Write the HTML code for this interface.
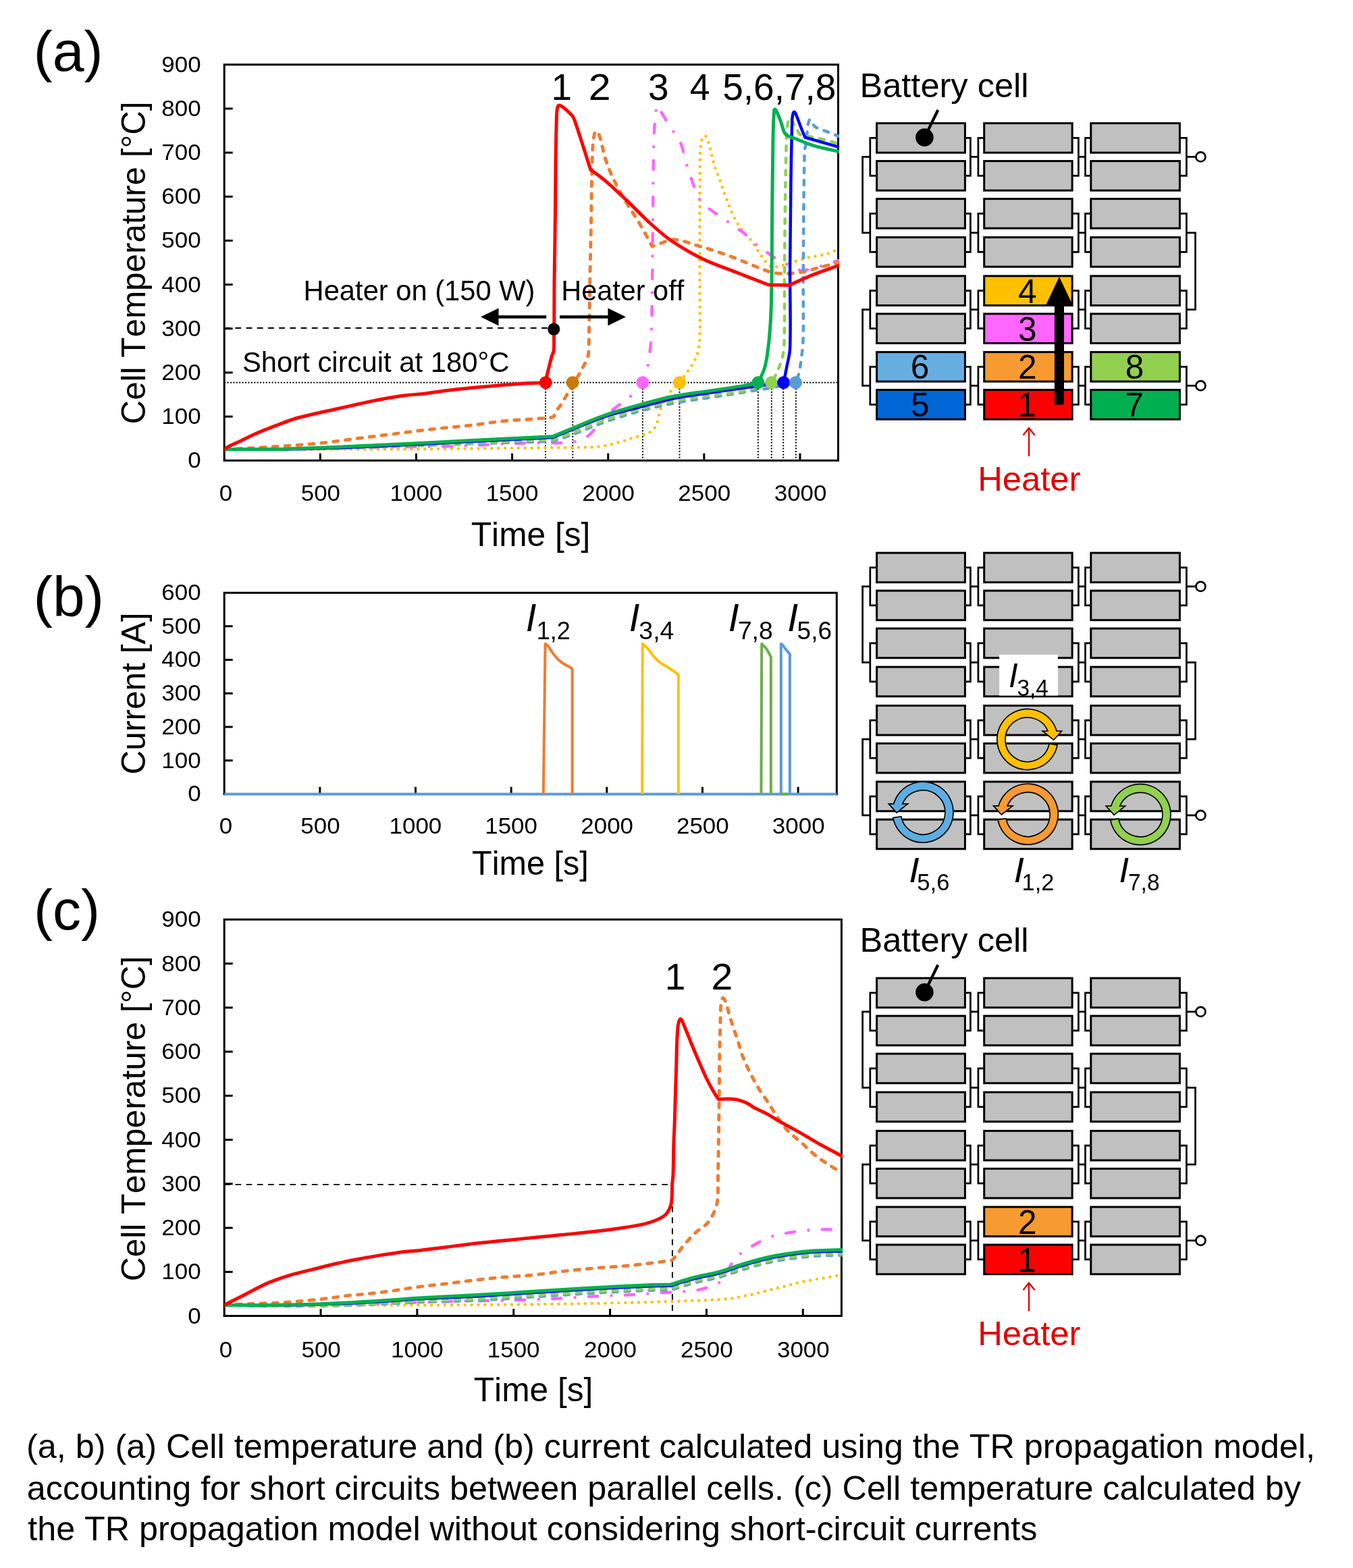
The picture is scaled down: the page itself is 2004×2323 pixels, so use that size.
<!DOCTYPE html>
<html><head><meta charset="utf-8"><title>TR propagation figure</title>
<style>
html,body{margin:0;padding:0;background:#fff;}
svg{display:block;}
text{font-family:'Liberation Sans', Arial, sans-serif;font-kerning:none;}
</style></head><body>
<svg xmlns="http://www.w3.org/2000/svg" width="2004" height="2323" viewBox="0 0 2004 2323">
<rect x="0" y="0" width="2004" height="2323" fill="#fff"/>
<text transform="translate(49.78,105) scale(1.0017,1)" font-size="84" fill="#000">(a)</text>
<text transform="translate(49.49,912.6) scale(1.0190,1)" font-size="84" fill="#000">(b)</text>
<text transform="translate(49.99,1377.3) scale(1.0008,1)" font-size="84" fill="#000">(c)</text>
<path d="M332.2,682.3 V95.8 H1241.5 V682.3" fill="none" stroke="#000" stroke-width="3" stroke-linejoin="miter"/>
<line x1="330.7" y1="682.3" x2="1243" y2="682.3" stroke="#000" stroke-width="3" stroke-linecap="butt"/>
<line x1="332.2" y1="617.13" x2="344.7" y2="617.13" stroke="#000" stroke-width="3" stroke-linecap="butt"/>
<line x1="332.2" y1="551.97" x2="344.7" y2="551.97" stroke="#000" stroke-width="3" stroke-linecap="butt"/>
<line x1="332.2" y1="486.8" x2="344.7" y2="486.8" stroke="#000" stroke-width="3" stroke-linecap="butt"/>
<line x1="332.2" y1="421.63" x2="344.7" y2="421.63" stroke="#000" stroke-width="3" stroke-linecap="butt"/>
<line x1="332.2" y1="356.46" x2="344.7" y2="356.46" stroke="#000" stroke-width="3" stroke-linecap="butt"/>
<line x1="332.2" y1="291.3" x2="344.7" y2="291.3" stroke="#000" stroke-width="3" stroke-linecap="butt"/>
<line x1="332.2" y1="226.13" x2="344.7" y2="226.13" stroke="#000" stroke-width="3" stroke-linecap="butt"/>
<line x1="332.2" y1="160.96" x2="344.7" y2="160.96" stroke="#000" stroke-width="3" stroke-linecap="butt"/>
<line x1="474.32" y1="682.3" x2="474.32" y2="671.7" stroke="#000" stroke-width="3" stroke-linecap="butt"/>
<line x1="616.45" y1="682.3" x2="616.45" y2="671.7" stroke="#000" stroke-width="3" stroke-linecap="butt"/>
<line x1="758.58" y1="682.3" x2="758.58" y2="671.7" stroke="#000" stroke-width="3" stroke-linecap="butt"/>
<line x1="900.7" y1="682.3" x2="900.7" y2="671.7" stroke="#000" stroke-width="3" stroke-linecap="butt"/>
<line x1="1042.83" y1="682.3" x2="1042.83" y2="671.7" stroke="#000" stroke-width="3" stroke-linecap="butt"/>
<line x1="1184.95" y1="682.3" x2="1184.95" y2="671.7" stroke="#000" stroke-width="3" stroke-linecap="butt"/>
<text transform="translate(278.23,693.3) scale(1.0400,1)" font-size="33.6" fill="#000">0</text>
<text transform="translate(239.36,628.13) scale(1.0400,1)" font-size="33.6" fill="#000">100</text>
<text transform="translate(239.36,562.97) scale(1.0400,1)" font-size="33.6" fill="#000">200</text>
<text transform="translate(239.36,497.8) scale(1.0400,1)" font-size="33.6" fill="#000">300</text>
<text transform="translate(239.36,432.63) scale(1.0400,1)" font-size="33.6" fill="#000">400</text>
<text transform="translate(239.36,367.46) scale(1.0400,1)" font-size="33.6" fill="#000">500</text>
<text transform="translate(239.36,302.3) scale(1.0400,1)" font-size="33.6" fill="#000">600</text>
<text transform="translate(239.36,237.13) scale(1.0400,1)" font-size="33.6" fill="#000">700</text>
<text transform="translate(239.36,171.96) scale(1.0400,1)" font-size="33.6" fill="#000">800</text>
<text transform="translate(239.36,106.8) scale(1.0400,1)" font-size="33.6" fill="#000">900</text>
<text transform="translate(324.68,741.8) scale(1.0400,1)" font-size="33.6" fill="#000">0</text>
<text transform="translate(445.76,741.8) scale(1.0400,1)" font-size="33.6" fill="#000">500</text>
<text transform="translate(577.53,741.8) scale(1.0400,1)" font-size="33.6" fill="#000">1000</text>
<text transform="translate(719.66,741.8) scale(1.0400,1)" font-size="33.6" fill="#000">1500</text>
<text transform="translate(862.24,741.8) scale(1.0400,1)" font-size="33.6" fill="#000">2000</text>
<text transform="translate(1004.36,741.8) scale(1.0400,1)" font-size="33.6" fill="#000">2500</text>
<text transform="translate(1146.7,741.8) scale(1.0400,1)" font-size="33.6" fill="#000">3000</text>
<text transform="translate(215.4,628.51) rotate(-90) scale(0.9880,1)" font-size="50" fill="#000">Cell Temperature [°C]</text>
<text transform="translate(697.78,809.1) scale(0.9937,1)" font-size="50" fill="#000">Time [s]</text>
<line x1="332.2" y1="486" x2="811" y2="486" stroke="#000" stroke-width="1.9" stroke-linecap="butt" stroke-dasharray="8.8 7.4"/>
<line x1="332.2" y1="566.8" x2="1241.5" y2="566.8" stroke="#000" stroke-width="2" stroke-linecap="butt" stroke-dasharray="2 2.4"/>
<line x1="808" y1="566.8" x2="808" y2="680.8" stroke="#000" stroke-width="2" stroke-linecap="butt" stroke-dasharray="2 2.4"/>
<line x1="848.3" y1="566.8" x2="848.3" y2="680.8" stroke="#000" stroke-width="2" stroke-linecap="butt" stroke-dasharray="2 2.4"/>
<line x1="951.9" y1="566.8" x2="951.9" y2="680.8" stroke="#000" stroke-width="2" stroke-linecap="butt" stroke-dasharray="2 2.4"/>
<line x1="1006.5" y1="566.8" x2="1006.5" y2="680.8" stroke="#000" stroke-width="2" stroke-linecap="butt" stroke-dasharray="2 2.4"/>
<line x1="1122.9" y1="566.8" x2="1122.9" y2="680.8" stroke="#000" stroke-width="2" stroke-linecap="butt" stroke-dasharray="2 2.4"/>
<line x1="1142.8" y1="566.8" x2="1142.8" y2="680.8" stroke="#000" stroke-width="2" stroke-linecap="butt" stroke-dasharray="2 2.4"/>
<line x1="1160.2" y1="566.8" x2="1160.2" y2="680.8" stroke="#000" stroke-width="2" stroke-linecap="butt" stroke-dasharray="2 2.4"/>
<line x1="1178.9" y1="566.8" x2="1178.9" y2="680.8" stroke="#000" stroke-width="2" stroke-linecap="butt" stroke-dasharray="2 2.4"/>
<clipPath id="clipA"><rect x="332.2" y="95.8" width="910.8" height="586.5"/></clipPath>
<g clip-path="url(#clipA)">
<path d="M332.2,665.8 C424.8,665.67 517.4,665.68 610,665.4 C628.6,665.34 647.2,664.99 665.8,664.8 C693.87,664.52 721.93,664.27 750,664 C776.67,663.74 803.33,663.47 830,663.2 C836.67,663.13 843.34,663.23 850,663 C864.01,662.53 878.17,663.38 892,661.1 C907.52,658.55 922.57,653.56 937.5,648.6 C948.09,645.08 960.75,643.83 968.4,635.7 C975.84,627.79 974.22,614.69 978.7,604.8 C982.83,595.68 988.24,587.12 994.1,579 C997.44,574.37 1002.38,571.13 1006.1,566.8 C1009.96,562.31 1013.38,557.44 1016.8,552.6 C1020.68,547.1 1024.86,541.75 1028,535.8 C1030.63,530.82 1032.71,525.48 1034,520 C1035.53,513.46 1036.27,506.71 1036.4,500 C1037.07,466.67 1036.33,433.33 1036.4,400 C1036.53,343.33 1036.22,286.66 1037,230 C1037.09,223.3 1037.52,216.54 1039,210 C1039.73,206.79 1040.21,201.2 1043.5,201.2 C1046.96,201.2 1047.71,206.79 1049,210 C1050.97,214.91 1051.87,220.18 1053.2,225.3 C1055.14,232.75 1056.52,240.35 1058.8,247.7 C1060.73,253.91 1063.56,259.8 1065.8,265.9 C1068.19,272.4 1070.33,278.99 1072.7,285.5 C1075.43,292.99 1078.02,300.55 1081.1,307.9 C1084.09,315.02 1087.13,322.16 1090.9,328.9 C1093.68,333.87 1097.16,338.44 1100.7,342.9 C1104.17,347.28 1108.5,350.96 1111.9,355.4 C1115.99,360.75 1119.31,366.64 1123.1,372.2 C1126.31,376.91 1129.28,381.8 1132.9,386.2 C1135.84,389.77 1142.7,396 1142.7,396 C1142.7,396 1150.23,395.42 1153.9,394.6 C1158.66,393.54 1163.23,391.8 1167.9,390.4 C1177.23,387.6 1186.45,384.37 1195.9,382 C1205.1,379.7 1214.66,378.93 1223.8,376.4 C1229.92,374.71 1235.6,371.73 1241.5,369.4" fill="none" stroke="#FFC000" stroke-width="4.5" stroke-linecap="round" stroke-linejoin="round" stroke-dasharray="0 9.9"/>
<path d="M332.2,665.8 C371.47,665.7 410.74,666.07 450,665.5 C484.68,665 519.33,663.29 554,662.6 C591.33,661.86 628.68,662.17 666,661.2 C694.02,660.47 721.99,658.59 750,657.5 C764.66,656.93 779.33,656.48 794,656.2 C802.4,656.04 810.8,656.32 819.2,656.2 C827.74,656.08 836.37,656.86 844.8,655.5 C852.4,654.27 859.91,651.92 866.8,648.5 C871.18,646.32 874.65,642.57 878,639 C884.52,632.04 889.48,623.67 896.3,617 C904.21,609.27 913.37,602.92 922,596 C927.93,591.25 934.56,587.31 940,582 C944.6,577.5 948.89,572.49 951.9,566.8 C955.15,560.65 956.83,553.75 958.5,547 C960.21,540.11 961.1,533.04 962,526 C963.2,516.7 964.33,507.37 964.8,498 C965.5,484.02 965.31,470 965.5,456 C965.98,419.8 966.43,383.6 966.8,347.4 C967.1,318.27 967.18,289.13 967.5,260 C967.68,243.33 967.78,226.66 968.3,210 C968.61,199.99 969.23,189.99 970,180 C970.57,172.65 971.24,165.3 972.3,158 C972.41,157.23 972.82,155.63 973.5,156 C974.88,156.75 975.2,158.64 976,160 C977.1,161.88 978.09,163.82 979.2,165.7 C981.86,170.22 984.51,174.75 987.3,179.2 C991.28,185.55 995.5,191.76 999.5,198.1 C1002.54,202.92 1006.29,207.41 1008.4,212.7 C1011.63,220.8 1012.97,229.53 1015.4,237.9 C1017.17,244 1018.99,250.08 1021,256.1 C1023.66,264.08 1026.28,272.09 1029.4,279.9 C1031.88,286.1 1033.65,292.86 1037.8,298.1 C1042.73,304.33 1049.61,308.78 1056,313.5 C1060.38,316.73 1065.6,318.69 1070,321.9 C1075.87,326.18 1080.83,331.62 1086.7,335.9 C1091.1,339.11 1096.46,340.88 1100.7,344.3 C1106.33,348.84 1110.6,354.9 1116.1,359.6 C1120.43,363.3 1125.45,366.11 1130.1,369.4 C1136.65,374.04 1142.8,379.3 1149.7,383.4 C1157.78,388.19 1166.44,391.93 1174.9,396 C1179.04,397.99 1187.5,401.6 1187.5,401.6 C1187.5,401.6 1202.57,398.15 1210,396 C1220.58,392.94 1231,389.33 1241.5,386" fill="none" stroke="#FF66FF" stroke-width="4.5" stroke-linecap="round" stroke-linejoin="round" stroke-dasharray="13 20.5 0 20.5"/>
<path d="M332.2,665.8 C350.13,664.87 368.08,664.14 386,663 C414.01,661.21 442.05,659.6 470,657 C488.73,655.26 507.33,652.33 526,650 C544.67,647.67 563.33,645.33 582,643 C600.67,640.67 619.31,638.1 638,636 C656.64,633.9 675.36,632.5 694,630.4 C712.69,628.3 731.29,625.34 750,623.4 C760.9,622.27 771.87,621.95 782.8,621.2 C790.43,620.68 798.06,620.02 805.7,619.6 C807.86,619.48 810.07,619.97 812.2,619.6 C815.09,619.1 820.6,617 820.6,617 C820.6,617 822.13,612.17 823.4,610 C825.42,606.53 828.22,603.57 830.4,600.2 C833.36,595.63 835.96,590.84 838.8,586.2 C841.1,582.44 843.81,578.93 845.8,575 C846.9,572.82 846.77,570.11 848,568 C850.08,564.43 853.38,561.69 855.6,558.2 C858.73,553.26 861.28,547.97 864,542.8 C865.94,539.11 868.07,535.48 869.6,531.6 C870.66,528.91 871.46,526.08 871.7,523.2 C872.4,514.83 872.22,506.4 872.4,498 C872.69,484 872.87,470 873.1,456 C873.33,442 873.53,428 873.8,414 C874.33,386 875,358 875.5,330 C875.9,307.2 876.02,284.4 876.5,261.6 C876.79,248.06 877.1,234.52 877.8,221 C878.1,215.15 878.54,209.28 879.5,203.5 C880.01,200.41 880.43,197.08 882.2,194.5 C882.76,193.68 884.46,194.67 885,195.5 C886.87,198.38 888.03,201.7 889,205 C891.81,214.56 893.44,224.45 896.3,234 C898.44,241.14 900.93,248.21 904,255 C909.51,267.17 915.4,279.19 922,290.8 C930.01,304.88 939.56,318.05 947.8,332 C954.17,342.79 965.8,365 965.8,365 C965.8,365 974.74,361.88 979.2,360.3 C983.7,358.71 988,356.37 992.7,355.5 C996.73,354.75 1000.98,354.71 1005,355.5 C1012.86,357.04 1020.33,360.1 1028,362.4 C1037.33,365.2 1046.73,367.79 1056,370.8 C1065.4,373.86 1074.74,377.12 1084,380.6 C1093.38,384.12 1102.6,388.07 1111.9,391.8 C1118.9,394.6 1125.81,397.65 1132.9,400.2 C1137.48,401.85 1142.09,403.61 1146.9,404.4 C1152.86,405.38 1165,405.5 1165,405.5 C1165,405.5 1181.02,404.43 1188.9,403 C1196,401.72 1202.83,399.26 1209.8,397.4 C1220.36,394.59 1230.93,391.8 1241.5,389" fill="none" stroke="#ED7D31" stroke-width="5" stroke-linecap="round" stroke-linejoin="round" stroke-dasharray="7 11"/>
<path d="M332.2,665.8 C361.47,665.7 390.74,665.94 420,665.5 C464.61,664.84 509.21,663.8 553.8,662.5 C600.44,661.14 647.06,659.05 693.7,657.5 C722.46,656.55 751.24,655.92 780,655 C793,654.58 819,653.5 819,653.5 C819,653.5 836.3,648.13 844.8,645 C862.08,638.63 878.92,631.08 896.3,625 C913.27,619.07 930.45,613.72 947.8,609 C964.81,604.38 982,600.36 999.3,597 C1016.35,593.69 1033.63,591.67 1050.8,589 C1067.93,586.34 1085.08,583.76 1102.2,581 C1118.15,578.43 1134.12,575.96 1150,573 C1159.56,571.22 1178.5,566.8 1178.5,566.8 C1178.5,566.8 1182.02,558.41 1183,554 C1185.06,544.77 1186.48,535.39 1187.6,526 C1188.71,516.71 1189.52,507.36 1189.7,498 C1190.22,470 1189.5,442 1189.7,414 C1190.16,350.66 1190.21,287.32 1191.7,224 C1191.81,219.24 1193.9,214.72 1194.5,210 C1195.34,203.37 1195.23,196.64 1196,190 C1196.39,186.62 1197,183.25 1198,180 C1198.35,178.85 1199.08,176.22 1200,177 C1203.24,179.73 1203.6,185.08 1207,187.6 C1211.88,191.21 1218.18,192.32 1223.8,194.6 C1229.68,196.99 1235.6,199.27 1241.5,201.6" fill="none" stroke="#5B9BD5" stroke-width="4.5" stroke-linecap="round" stroke-linejoin="round" stroke-dasharray="7 11"/>
<path d="M332.2,665.8 C361.47,665.7 390.74,666 420,665.5 C464.61,664.74 509.21,663.47 553.8,662 C600.44,660.47 647.07,658.36 693.7,656.5 C722.47,655.36 751.23,654.15 780,653 C793,652.48 819,651.5 819,651.5 C819,651.5 836.27,645.7 844.8,642.5 C862.04,636.03 878.92,628.58 896.3,622.5 C913.27,616.57 930.47,611.29 947.8,606.5 C964.83,601.79 981.96,597.37 999.3,594 C1016.33,590.69 1033.63,589 1050.8,586.5 C1067.93,584 1085.27,582.64 1102.2,579 C1115.92,576.05 1142.5,566.8 1142.5,566.8 C1142.5,566.8 1147.9,558.53 1149.8,554 C1153.62,544.88 1157.54,535.67 1159.6,526 C1161.55,516.84 1161.52,507.36 1161.7,498 C1162.32,465.34 1161.79,432.67 1162,400 C1162.22,366.67 1162.54,333.33 1163,300 C1163.38,272.33 1163.89,244.66 1164.5,217 C1164.66,209.66 1164.74,202.32 1165.3,195 C1165.67,190.2 1166.31,185.41 1167.3,180.7 C1167.72,178.71 1167.51,174.58 1169.5,175 C1172.36,175.6 1172.94,179.73 1174.5,182.2 C1177.04,186.23 1179.25,190.47 1181.8,194.5 C1182.92,196.28 1183.58,198.75 1185.5,199.6 C1190.01,201.58 1195.17,201.52 1200,202.5 C1204.84,203.48 1209.69,204.41 1214.5,205.5 C1219.39,206.61 1224.28,207.73 1229.1,209.1 C1233.45,210.33 1237.7,211.9 1242,213.3" fill="none" stroke="#92D050" stroke-width="4.5" stroke-linecap="round" stroke-linejoin="round" stroke-dasharray="7 11"/>
<path d="M332.2,665.8 C361.47,665.7 390.74,666.09 420,665.5 C464.61,664.59 509.22,663.12 553.8,661.3 C600.45,659.39 647.07,656.63 693.7,654.3 C722.47,652.86 751.23,651.45 780,650 C793,649.35 819,648 819,648 C819,648 836.18,640.96 844.8,637.5 C861.95,630.62 878.78,622.87 896.3,617 C913.17,611.35 930.59,607.51 947.8,603 C964.93,598.51 981.95,593.54 999.3,590 C1016.32,586.53 1033.62,584.59 1050.8,582 C1067.92,579.42 1085.05,576.87 1102.2,574.5 C1121.68,571.81 1160.7,566.8 1160.7,566.8 C1160.7,566.8 1163.65,552.28 1165,545 C1166.78,535.41 1169.76,525.94 1170.1,516.2 C1171.46,477.49 1169.89,438.73 1170.1,400 C1170.35,354.36 1170.9,308.73 1171.5,263.1 C1171.8,240.73 1172.29,218.37 1172.8,196 C1172.96,189 1172.97,181.98 1173.5,175 C1173.71,172.29 1174.02,169.53 1175,167 C1175.27,166.31 1176.47,165.47 1177,166 C1178.58,167.58 1179.15,169.93 1180,172 C1182.16,177.27 1183.93,182.69 1186,188 C1188.03,193.2 1192.3,203.5 1192.3,203.5 C1192.3,203.5 1225.1,212.97 1241.5,217.7" fill="none" stroke="#0000FF" stroke-width="4.5" stroke-linecap="round" stroke-linejoin="round"/>
<path d="M332.2,665.8 C359.47,665.67 386.74,666.14 414,665.4 C460.62,664.14 507.21,661.9 553.8,659.8 C600.44,657.7 647.07,655.13 693.7,652.8 C722.47,651.36 751.24,649.97 780,648.5 C793.07,647.83 819.2,646.4 819.2,646.4 C819.2,646.4 836.23,639.18 844.8,635.7 C861.93,628.75 878.85,621.2 896.3,615.1 C913.21,609.19 930.52,604.45 947.8,599.7 C964.86,595.01 981.95,590.27 999.3,586.8 C1016.32,583.4 1033.63,581.67 1050.8,579.1 C1067.93,576.54 1085.12,574.31 1102.2,571.4 C1109.17,570.21 1122.9,566.8 1122.9,566.8 C1122.9,566.8 1130.99,551.37 1133.1,543 C1136.49,529.57 1137.92,515.69 1139.3,501.9 C1141.02,484.79 1142.02,467.59 1142.4,450.4 C1143.52,400.28 1143.29,350.13 1143.8,300 C1144.09,272 1144.39,244 1144.8,216 C1144.95,205.67 1145.15,195.33 1145.5,185 C1145.72,178.66 1145.92,172.32 1146.5,166 C1146.63,164.62 1146.23,162.17 1147.6,162 C1149.1,161.81 1149.83,164.14 1150.5,165.5 C1152.79,170.19 1154.58,175.11 1156.4,180 C1158.48,185.61 1159.49,191.66 1162.2,197 C1163.23,199.02 1165.3,200.44 1167.3,201.5 C1170.72,203.32 1174.59,204.11 1178.2,205.5 C1183.06,207.37 1187.83,209.47 1192.7,211.3 C1197.53,213.11 1202.36,214.92 1207.3,216.4 C1212.07,217.83 1216.95,218.88 1221.8,220 C1228.52,221.55 1235.27,222.93 1242,224.4" fill="none" stroke="#00B050" stroke-width="5" stroke-linecap="round" stroke-linejoin="round"/>
<path d="M332.2,665.5 C334.47,664.1 336.62,662.5 339,661.3 C344.87,658.33 350.96,655.82 356.9,653 C362.89,650.15 368.77,647.06 374.8,644.3 C380.71,641.59 386.68,639.04 392.7,636.6 C398.42,634.28 404.21,632.15 410,630 C418.65,626.78 427.18,623.2 436,620.5 C445.2,617.69 454.63,615.69 464,613.5 C475.3,610.86 486.67,608.52 498,606 C509.14,603.52 520.25,600.91 531.4,598.5 C542.58,596.08 553.75,593.59 565,591.5 C576.16,589.42 587.35,587.47 598.6,586 C609.03,584.64 619.56,584.24 630,583 C641.96,581.58 653.83,579.37 665.8,578 C684.4,575.87 703.05,574.17 721.7,572.5 C740.35,570.83 759.01,569.24 777.7,568 C785.12,567.51 792.57,567.59 800,567.3 C802.67,567.19 808,566.8 808,566.8 C808,566.8 809.54,558.64 810.5,554.6 C812.64,545.57 814.84,536.55 817.3,527.6 C818.11,524.67 820.06,522.03 820.3,519 C821.11,508.6 820.27,498.13 820.4,487.7 C820.44,484.46 820.77,481.24 820.8,478 C820.97,458.67 820.8,439.33 821,420 C821.34,386.67 822.02,353.33 822.4,320 C822.72,291.67 822.74,263.33 823.1,235 C823.34,216.66 823.67,198.33 824.2,180 C824.37,173.99 824.37,167.95 825.2,162 C825.49,159.94 825.77,157.35 827.5,156.2 C828.8,155.34 830.68,156.67 832,157.5 C834.91,159.32 837.44,161.71 840,164 C842.58,166.31 845.26,168.58 847.4,171.3 C848.97,173.29 850.18,175.6 851,178 C859.3,202.37 874.7,251.5 874.7,251.5 C874.7,251.5 889.44,261.8 896.3,267.6 C906.96,276.62 917.06,286.29 927.2,295.9 C939.36,307.43 950.78,319.75 963.2,331 C973.1,339.97 983.05,349.01 994.1,356.5 C1008.9,366.53 1024.42,375.59 1040.5,383.4 C1057.1,391.46 1074.73,397.22 1091.9,404 C1107.33,410.09 1138.3,422 1138.3,422 C1138.3,422 1169.2,422.5 1169.2,422.5 C1169.2,422.5 1193.02,411.48 1205.2,406.6 C1217.14,401.81 1229.4,397.87 1241.5,393.5" fill="none" stroke="#FF0000" stroke-width="5" stroke-linecap="round" stroke-linejoin="round"/>
</g>
<circle cx="808.2" cy="566.8" r="9.5" fill="#FF0000"/>
<circle cx="848" cy="566.8" r="9.5" fill="#C87A0A"/>
<circle cx="951.9" cy="566.8" r="9.5" fill="#FF66FF"/>
<circle cx="1006.5" cy="566.8" r="9.5" fill="#FFC000"/>
<circle cx="1122.9" cy="566.8" r="9.5" fill="#00B050"/>
<circle cx="1142.5" cy="566.8" r="9.5" fill="#92D050"/>
<circle cx="1160.7" cy="566.8" r="9.5" fill="#0000FF"/>
<circle cx="1178.5" cy="566.8" r="9.5" fill="#5B9BD5"/>
<circle cx="820.3" cy="487.7" r="9.1" fill="#000"/>
<path d="M809.2,469.5 H736 M829,469.5 H902" stroke="#000" stroke-width="4.7" fill="none"/>
<path d="M712,469.5 L738.5,456.5 L738.5,482.5 Z M927,469.5 L900.4,456.5 L900.4,482.5 Z" fill="#000"/>
<text transform="translate(449.58,445) scale(1.0000,1)" font-size="41.7" fill="#000">Heater on (150 W)</text>
<text transform="translate(831.2,444.8) scale(0.9942,1)" font-size="41.7" fill="#000">Heater off</text>
<text transform="translate(358.9,550.7) scale(1.0031,1)" font-size="41.7" fill="#000">Short circuit at 180°C</text>
<text transform="translate(816.45,147.9) scale(1.0000,1)" font-size="55" fill="#000">1</text>
<text transform="translate(871.73,147.9) scale(1.0736,1)" font-size="55" fill="#000">2</text>
<text transform="translate(959.91,147.9) scale(0.9971,1)" font-size="55" fill="#000">3</text>
<text transform="translate(1021.77,147.9) scale(0.9742,1)" font-size="55" fill="#000">4</text>
<text transform="translate(1070.2,147.9) scale(1.0000,1)" font-size="55" fill="#000">5,6,7,8</text>
<path d="M1297.1,204.4 H1288.8 V260.4 H1297.1 M1430.9,204.4 H1437.4 V260.4 H1430.9 M1297.1,316.4 H1288.8 V373.4 H1297.1 M1430.9,316.4 H1437.4 V373.4 H1430.9 M1297.1,430.7 H1288.8 V486.7 H1297.1 M1430.9,430.7 H1437.4 V486.7 H1430.9 M1297.1,543.4 H1288.8 V599.4 H1297.1 M1430.9,543.4 H1437.4 V599.4 H1430.9 M1456.2,204.4 H1448.9 V260.4 H1456.2 M1589.6,204.4 H1597.4 V260.4 H1589.6 M1456.2,316.4 H1448.9 V373.4 H1456.2 M1589.6,316.4 H1597.4 V373.4 H1589.6 M1456.2,430.7 H1448.9 V486.7 H1456.2 M1589.6,430.7 H1597.4 V486.7 H1589.6 M1456.2,543.4 H1448.9 V599.4 H1456.2 M1589.6,543.4 H1597.4 V599.4 H1589.6 M1614.3,204.4 H1607.5 V260.4 H1614.3 M1748.9,204.4 H1757.4 V260.4 H1748.9 M1614.3,316.4 H1607.5 V373.4 H1614.3 M1748.9,316.4 H1757.4 V373.4 H1748.9 M1614.3,430.7 H1607.5 V486.7 H1614.3 M1748.9,430.7 H1757.4 V486.7 H1748.9 M1614.3,543.4 H1607.5 V599.4 H1614.3 M1748.9,543.4 H1757.4 V599.4 H1748.9 M1437.4,232.4 H1448.9 M1597.4,232.4 H1607.5 M1437.4,344.9 H1448.9 M1597.4,344.9 H1607.5 M1437.4,458.7 H1448.9 M1597.4,458.7 H1607.5 M1437.4,571.4 H1448.9 M1597.4,571.4 H1607.5 M1288.8,232.4 H1277.6 V344.9 H1288.8 M1288.8,458.7 H1277.6 V571.4 H1288.8 M1757.4,344.9 H1770.5 V458.7 H1757.4 M1757.4,232.4 H1771.4 M1757.4,571.4 H1771.4 " fill="none" stroke="#000" stroke-width="2.7" stroke-linejoin="miter" stroke-linecap="square"/>
<circle cx="1778.4" cy="232.4" r="7" fill="#fff" stroke="#000" stroke-width="2.7"/>
<circle cx="1778.4" cy="571.4" r="7" fill="#fff" stroke="#000" stroke-width="2.7"/>
<rect x="1298.6" y="182.6" width="130.8" height="43.6" fill="#C0C0C0" stroke="#000" stroke-width="3"/>
<rect x="1298.6" y="238.6" width="130.8" height="43.6" fill="#C0C0C0" stroke="#000" stroke-width="3"/>
<rect x="1298.6" y="294.6" width="130.8" height="43.6" fill="#C0C0C0" stroke="#000" stroke-width="3"/>
<rect x="1298.6" y="351.6" width="130.8" height="43.6" fill="#C0C0C0" stroke="#000" stroke-width="3"/>
<rect x="1298.6" y="408.9" width="130.8" height="43.6" fill="#C0C0C0" stroke="#000" stroke-width="3"/>
<rect x="1298.6" y="464.9" width="130.8" height="43.6" fill="#C0C0C0" stroke="#000" stroke-width="3"/>
<rect x="1298.6" y="521.6" width="130.8" height="43.6" fill="#66AEE2" stroke="#000" stroke-width="3"/>
<rect x="1298.6" y="577.6" width="130.8" height="43.6" fill="#0066D6" stroke="#000" stroke-width="3"/>
<rect x="1457.7" y="182.6" width="130.4" height="43.6" fill="#C0C0C0" stroke="#000" stroke-width="3"/>
<rect x="1457.7" y="238.6" width="130.4" height="43.6" fill="#C0C0C0" stroke="#000" stroke-width="3"/>
<rect x="1457.7" y="294.6" width="130.4" height="43.6" fill="#C0C0C0" stroke="#000" stroke-width="3"/>
<rect x="1457.7" y="351.6" width="130.4" height="43.6" fill="#C0C0C0" stroke="#000" stroke-width="3"/>
<rect x="1457.7" y="408.9" width="130.4" height="43.6" fill="#FFC000" stroke="#000" stroke-width="3"/>
<rect x="1457.7" y="464.9" width="130.4" height="43.6" fill="#FF66FF" stroke="#000" stroke-width="3"/>
<rect x="1457.7" y="521.6" width="130.4" height="43.6" fill="#F79A32" stroke="#000" stroke-width="3"/>
<rect x="1457.7" y="577.6" width="130.4" height="43.6" fill="#FF0000" stroke="#000" stroke-width="3"/>
<rect x="1615.8" y="182.6" width="131.6" height="43.6" fill="#C0C0C0" stroke="#000" stroke-width="3"/>
<rect x="1615.8" y="238.6" width="131.6" height="43.6" fill="#C0C0C0" stroke="#000" stroke-width="3"/>
<rect x="1615.8" y="294.6" width="131.6" height="43.6" fill="#C0C0C0" stroke="#000" stroke-width="3"/>
<rect x="1615.8" y="351.6" width="131.6" height="43.6" fill="#C0C0C0" stroke="#000" stroke-width="3"/>
<rect x="1615.8" y="408.9" width="131.6" height="43.6" fill="#C0C0C0" stroke="#000" stroke-width="3"/>
<rect x="1615.8" y="464.9" width="131.6" height="43.6" fill="#C0C0C0" stroke="#000" stroke-width="3"/>
<rect x="1615.8" y="521.6" width="131.6" height="43.6" fill="#92D050" stroke="#000" stroke-width="3"/>
<rect x="1615.8" y="577.6" width="131.6" height="43.6" fill="#00B050" stroke="#000" stroke-width="3"/>
<text transform="translate(1507.26,617.3) scale(1.0000,1)" font-size="49.5" fill="#000">1</text>
<text transform="translate(1507.94,561.3) scale(1.0000,1)" font-size="49.5" fill="#000">2</text>
<text transform="translate(1508.08,504.6) scale(1.0000,1)" font-size="49.5" fill="#000">3</text>
<text transform="translate(1508.09,448.6) scale(1.0000,1)" font-size="49.5" fill="#000">4</text>
<text transform="translate(1349.08,617.3) scale(1.0000,1)" font-size="49.5" fill="#000">5</text>
<text transform="translate(1348.87,561.3) scale(1.0000,1)" font-size="49.5" fill="#000">6</text>
<text transform="translate(1666.61,617.3) scale(1.0000,1)" font-size="49.5" fill="#000">7</text>
<text transform="translate(1666.64,561.3) scale(1.0000,1)" font-size="49.5" fill="#000">8</text>
<text transform="translate(1273.45,143.7) scale(0.9994,1)" font-size="50.6" fill="#000">Battery cell</text>
<line x1="1389.3" y1="163" x2="1369.4" y2="203.6" stroke="#000" stroke-width="4.2" stroke-linecap="butt"/>
<circle cx="1369.4" cy="203.6" r="13.3" fill="#000"/>
<path d="M1524,676 V635 M1515.4,644.8 L1524,634.2 L1532.6,644.8" fill="none" stroke="#E00000" stroke-width="2.3"/>
<text transform="translate(1448.13,726.7) scale(0.9996,1)" font-size="50.8" fill="#E00000">Heater</text>
<path d="M1561.9,599.5 V452.4 H1548.8 L1568.9,410.1 L1589,452.4 H1576 V599.5 Z" fill="#000"/>
<path d="M332.2,1176.4 V878.2 H1239.3 V1176.4" fill="none" stroke="#000" stroke-width="3" stroke-linejoin="miter"/>
<line x1="330.7" y1="1176.4" x2="1240.8" y2="1176.4" stroke="#000" stroke-width="3" stroke-linecap="butt"/>
<line x1="332.2" y1="1126.67" x2="344.7" y2="1126.67" stroke="#000" stroke-width="3" stroke-linecap="butt"/>
<line x1="332.2" y1="1076.93" x2="344.7" y2="1076.93" stroke="#000" stroke-width="3" stroke-linecap="butt"/>
<line x1="332.2" y1="1027.2" x2="344.7" y2="1027.2" stroke="#000" stroke-width="3" stroke-linecap="butt"/>
<line x1="332.2" y1="977.47" x2="344.7" y2="977.47" stroke="#000" stroke-width="3" stroke-linecap="butt"/>
<line x1="332.2" y1="927.74" x2="344.7" y2="927.74" stroke="#000" stroke-width="3" stroke-linecap="butt"/>
<line x1="473.85" y1="1176.4" x2="473.85" y2="1165.8" stroke="#000" stroke-width="3" stroke-linecap="butt"/>
<line x1="615.5" y1="1176.4" x2="615.5" y2="1165.8" stroke="#000" stroke-width="3" stroke-linecap="butt"/>
<line x1="757.15" y1="1176.4" x2="757.15" y2="1165.8" stroke="#000" stroke-width="3" stroke-linecap="butt"/>
<line x1="898.8" y1="1176.4" x2="898.8" y2="1165.8" stroke="#000" stroke-width="3" stroke-linecap="butt"/>
<line x1="1040.45" y1="1176.4" x2="1040.45" y2="1165.8" stroke="#000" stroke-width="3" stroke-linecap="butt"/>
<line x1="1182.1" y1="1176.4" x2="1182.1" y2="1165.8" stroke="#000" stroke-width="3" stroke-linecap="butt"/>
<text transform="translate(278.23,1187.4) scale(1.0400,1)" font-size="33.6" fill="#000">0</text>
<text transform="translate(239.36,1137.67) scale(1.0400,1)" font-size="33.6" fill="#000">100</text>
<text transform="translate(239.36,1087.93) scale(1.0400,1)" font-size="33.6" fill="#000">200</text>
<text transform="translate(239.36,1038.2) scale(1.0400,1)" font-size="33.6" fill="#000">300</text>
<text transform="translate(239.36,988.47) scale(1.0400,1)" font-size="33.6" fill="#000">400</text>
<text transform="translate(239.36,938.74) scale(1.0400,1)" font-size="33.6" fill="#000">500</text>
<text transform="translate(239.36,889) scale(1.0400,1)" font-size="33.6" fill="#000">600</text>
<text transform="translate(324.68,1234.9) scale(1.0400,1)" font-size="33.6" fill="#000">0</text>
<text transform="translate(445.28,1234.9) scale(1.0400,1)" font-size="33.6" fill="#000">500</text>
<text transform="translate(576.58,1234.9) scale(1.0400,1)" font-size="33.6" fill="#000">1000</text>
<text transform="translate(718.23,1234.9) scale(1.0400,1)" font-size="33.6" fill="#000">1500</text>
<text transform="translate(860.34,1234.9) scale(1.0400,1)" font-size="33.6" fill="#000">2000</text>
<text transform="translate(1001.99,1234.9) scale(1.0400,1)" font-size="33.6" fill="#000">2500</text>
<text transform="translate(1143.85,1234.9) scale(1.0400,1)" font-size="33.6" fill="#000">3000</text>
<text transform="translate(215.4,1147.62) rotate(-90) scale(0.9939,1)" font-size="50" fill="#000">Current [A]</text>
<text transform="translate(699.11,1296.1) scale(0.9717,1)" font-size="50" fill="#000">Time [s]</text>
<polyline points="332.2,1176.4 1239.3,1176.4" fill="none" stroke="#5B9BD5" stroke-width="4" stroke-linecap="butt" stroke-linejoin="round"/>
<path d="M804.8,1176.4 C804.8,1176.4 807.6,953.7 807.6,953.7 C807.6,953.7 810.74,956.03 812,957.5 C813.56,959.33 814.63,961.52 816,963.5 C817.63,965.86 819.21,968.26 821,970.5 C822.95,972.93 824.92,975.38 827.2,977.5 C829.6,979.73 832.25,981.72 835,983.5 C837.83,985.33 841.05,986.49 843.9,988.3 C845.28,989.17 847.6,991.5 847.6,991.5 C847.6,991.5 847.6,1176.4 847.6,1176.4" fill="none" stroke="#ED7D31" stroke-width="4" stroke-linecap="butt" stroke-linejoin="round"/>
<path d="M951.1,1176.4 C951.1,1176.4 951.7,953.7 951.7,953.7 C951.7,953.7 954.65,956.15 956,957.5 C957.92,959.42 959.79,961.4 961.5,963.5 C963.46,965.9 965.03,968.6 967,971 C968.87,973.28 970.83,975.5 973,977.5 C975.18,979.51 977.55,981.32 980,983 C983.89,985.66 988.07,987.9 992,990.5 C995.87,993.06 999.74,995.64 1003.4,998.5 C1004.04,999 1004.8,1000.5 1004.8,1000.5 C1004.8,1000.5 1004.8,1176.4 1004.8,1176.4" fill="none" stroke="#FFC000" stroke-width="4" stroke-linecap="butt" stroke-linejoin="round"/>
<path d="M1127.4,1176.4 C1127.4,1176.4 1128.2,953.7 1128.2,953.7 C1128.2,953.7 1130.11,955.53 1131,956.5 C1132.34,957.96 1133.72,959.4 1134.9,961 C1136.06,962.58 1137.03,964.3 1138,966 C1139.36,968.4 1141.9,973.3 1141.9,973.3 C1141.9,973.3 1141.9,1176.4 1141.9,1176.4" fill="none" stroke="#70AD47" stroke-width="4" stroke-linecap="butt" stroke-linejoin="round"/>
<path d="M1156.8,1176.4 C1156.8,1176.4 1156.8,953.7 1156.8,953.7 C1156.8,953.7 1158.72,955.11 1159.5,956 C1160.77,957.46 1161.7,959.19 1162.9,960.7 C1165.17,963.55 1169.9,969.1 1169.9,969.1 C1169.9,969.1 1169.9,1176.4 1169.9,1176.4" fill="none" stroke="#5B9BD5" stroke-width="4" stroke-linecap="butt" stroke-linejoin="round"/>
<polyline points="1157.5,1176.4 1167,1176.4" fill="none" stroke="#70AD47" stroke-width="4" stroke-linecap="butt" stroke-linejoin="round"/>
<text transform="translate(778.77,934.7) scale(0.9839,1)" font-size="57.3" fill="#000" font-style="italic">I</text>
<text transform="translate(794.76,947.4) scale(0.9653,1)" font-size="37.3" fill="#000">1,2</text>
<text transform="translate(931.77,934.7) scale(0.9839,1)" font-size="57.3" fill="#000" font-style="italic">I</text>
<text transform="translate(946.37,947.4) scale(1.0033,1)" font-size="37.3" fill="#000">3,4</text>
<text transform="translate(1078.64,934.7) scale(0.9992,1)" font-size="57.3" fill="#000" font-style="italic">I</text>
<text transform="translate(1092.89,947.4) scale(0.9996,1)" font-size="37.3" fill="#000">7,8</text>
<text transform="translate(1166.34,934.7) scale(0.9992,1)" font-size="57.3" fill="#000" font-style="italic">I</text>
<text transform="translate(1180.62,947.4) scale(0.9914,1)" font-size="37.3" fill="#000">5,6</text>
<path d="M1297.1,840.9 H1288.8 V896.9 H1297.1 M1430.9,840.9 H1437.4 V896.9 H1430.9 M1297.1,952.9 H1288.8 V1009.9 H1297.1 M1430.9,952.9 H1437.4 V1009.9 H1430.9 M1297.1,1067.2 H1288.8 V1123.2 H1297.1 M1430.9,1067.2 H1437.4 V1123.2 H1430.9 M1297.1,1179.9 H1288.8 V1235.9 H1297.1 M1430.9,1179.9 H1437.4 V1235.9 H1430.9 M1456.2,840.9 H1448.9 V896.9 H1456.2 M1589.6,840.9 H1597.4 V896.9 H1589.6 M1456.2,952.9 H1448.9 V1009.9 H1456.2 M1589.6,952.9 H1597.4 V1009.9 H1589.6 M1456.2,1067.2 H1448.9 V1123.2 H1456.2 M1589.6,1067.2 H1597.4 V1123.2 H1589.6 M1456.2,1179.9 H1448.9 V1235.9 H1456.2 M1589.6,1179.9 H1597.4 V1235.9 H1589.6 M1614.3,840.9 H1607.5 V896.9 H1614.3 M1748.9,840.9 H1757.4 V896.9 H1748.9 M1614.3,952.9 H1607.5 V1009.9 H1614.3 M1748.9,952.9 H1757.4 V1009.9 H1748.9 M1614.3,1067.2 H1607.5 V1123.2 H1614.3 M1748.9,1067.2 H1757.4 V1123.2 H1748.9 M1614.3,1179.9 H1607.5 V1235.9 H1614.3 M1748.9,1179.9 H1757.4 V1235.9 H1748.9 M1437.4,868.9 H1448.9 M1597.4,868.9 H1607.5 M1437.4,981.4 H1448.9 M1597.4,981.4 H1607.5 M1437.4,1095.2 H1448.9 M1597.4,1095.2 H1607.5 M1437.4,1207.9 H1448.9 M1597.4,1207.9 H1607.5 M1288.8,868.9 H1277.6 V981.4 H1288.8 M1288.8,1095.2 H1277.6 V1207.9 H1288.8 M1757.4,981.4 H1770.5 V1095.2 H1757.4 M1757.4,868.9 H1771.4 M1757.4,1207.9 H1771.4 " fill="none" stroke="#000" stroke-width="2.7" stroke-linejoin="miter" stroke-linecap="square"/>
<circle cx="1778.4" cy="868.9" r="7" fill="#fff" stroke="#000" stroke-width="2.7"/>
<circle cx="1778.4" cy="1207.9" r="7" fill="#fff" stroke="#000" stroke-width="2.7"/>
<rect x="1298.6" y="819.1" width="130.8" height="43.6" fill="#C0C0C0" stroke="#000" stroke-width="3"/>
<rect x="1298.6" y="875.1" width="130.8" height="43.6" fill="#C0C0C0" stroke="#000" stroke-width="3"/>
<rect x="1298.6" y="931.1" width="130.8" height="43.6" fill="#C0C0C0" stroke="#000" stroke-width="3"/>
<rect x="1298.6" y="988.1" width="130.8" height="43.6" fill="#C0C0C0" stroke="#000" stroke-width="3"/>
<rect x="1298.6" y="1045.4" width="130.8" height="43.6" fill="#C0C0C0" stroke="#000" stroke-width="3"/>
<rect x="1298.6" y="1101.4" width="130.8" height="43.6" fill="#C0C0C0" stroke="#000" stroke-width="3"/>
<rect x="1298.6" y="1158.1" width="130.8" height="43.6" fill="#C0C0C0" stroke="#000" stroke-width="3"/>
<rect x="1298.6" y="1214.1" width="130.8" height="43.6" fill="#C0C0C0" stroke="#000" stroke-width="3"/>
<rect x="1457.7" y="819.1" width="130.4" height="43.6" fill="#C0C0C0" stroke="#000" stroke-width="3"/>
<rect x="1457.7" y="875.1" width="130.4" height="43.6" fill="#C0C0C0" stroke="#000" stroke-width="3"/>
<rect x="1457.7" y="931.1" width="130.4" height="43.6" fill="#C0C0C0" stroke="#000" stroke-width="3"/>
<rect x="1457.7" y="988.1" width="130.4" height="43.6" fill="#C0C0C0" stroke="#000" stroke-width="3"/>
<rect x="1457.7" y="1045.4" width="130.4" height="43.6" fill="#C0C0C0" stroke="#000" stroke-width="3"/>
<rect x="1457.7" y="1101.4" width="130.4" height="43.6" fill="#C0C0C0" stroke="#000" stroke-width="3"/>
<rect x="1457.7" y="1158.1" width="130.4" height="43.6" fill="#C0C0C0" stroke="#000" stroke-width="3"/>
<rect x="1457.7" y="1214.1" width="130.4" height="43.6" fill="#C0C0C0" stroke="#000" stroke-width="3"/>
<rect x="1615.8" y="819.1" width="131.6" height="43.6" fill="#C0C0C0" stroke="#000" stroke-width="3"/>
<rect x="1615.8" y="875.1" width="131.6" height="43.6" fill="#C0C0C0" stroke="#000" stroke-width="3"/>
<rect x="1615.8" y="931.1" width="131.6" height="43.6" fill="#C0C0C0" stroke="#000" stroke-width="3"/>
<rect x="1615.8" y="988.1" width="131.6" height="43.6" fill="#C0C0C0" stroke="#000" stroke-width="3"/>
<rect x="1615.8" y="1045.4" width="131.6" height="43.6" fill="#C0C0C0" stroke="#000" stroke-width="3"/>
<rect x="1615.8" y="1101.4" width="131.6" height="43.6" fill="#C0C0C0" stroke="#000" stroke-width="3"/>
<rect x="1615.8" y="1158.1" width="131.6" height="43.6" fill="#C0C0C0" stroke="#000" stroke-width="3"/>
<rect x="1615.8" y="1214.1" width="131.6" height="43.6" fill="#C0C0C0" stroke="#000" stroke-width="3"/>
<path transform="translate(1521.8,1095.6) " d="M44.27,8.05 A45,45 0 1 1 43.26,-12.6 L50.8,-12.6 L38.9,0.6 L22.4,-12.6 L30.2,-12.6 A32.8,32.8 0 1 0 32.2,6.26 Z" fill="#FFC000" stroke="#000" stroke-width="1.7" stroke-linejoin="miter"/>
<path transform="translate(1367,1203.4) scale(-1,1)" d="M44.27,8.05 A45,45 0 1 1 43.26,-12.6 L50.8,-12.6 L38.9,0.6 L22.4,-12.6 L30.2,-12.6 A32.8,32.8 0 1 0 32.2,6.26 Z" fill="#5DADE2" stroke="#000" stroke-width="1.7" stroke-linejoin="miter"/>
<path transform="translate(1522.3,1206.4) scale(-1,1)" d="M44.27,8.05 A45,45 0 1 1 43.26,-12.6 L50.8,-12.6 L38.9,0.6 L22.4,-12.6 L30.2,-12.6 A32.8,32.8 0 1 0 32.2,6.26 Z" fill="#F79A32" stroke="#000" stroke-width="1.7" stroke-linejoin="miter"/>
<path transform="translate(1689,1206.8) scale(-1,1)" d="M44.27,8.05 A45,45 0 1 1 43.26,-12.6 L50.8,-12.6 L38.9,0.6 L22.4,-12.6 L30.2,-12.6 A32.8,32.8 0 1 0 32.2,6.26 Z" fill="#92D050" stroke="#000" stroke-width="1.7" stroke-linejoin="miter"/>
<rect x="1480.1" y="969.9" width="86.8" height="60.6" fill="#fff"/>
<text transform="translate(1493.97,1018.2) scale(0.9643,1)" font-size="50.7" fill="#000" font-style="italic">I</text>
<text transform="translate(1506.43,1030.5) scale(0.9664,1)" font-size="34.5" fill="#000">3,4</text>
<text transform="translate(1346.21,1307) scale(1.0734,1)" font-size="51.7" fill="#000" font-style="italic">I</text>
<text transform="translate(1358.31,1318.8) scale(0.9831,1)" font-size="35.2" fill="#000">5,6</text>
<text transform="translate(1501.41,1307) scale(1.0734,1)" font-size="51.7" fill="#000" font-style="italic">I</text>
<text transform="translate(1513.58,1318.8) scale(0.9757,1)" font-size="35.2" fill="#000">1,2</text>
<text transform="translate(1657.43,1307) scale(1.0138,1)" font-size="51.7" fill="#000" font-style="italic">I</text>
<text transform="translate(1670.98,1318.8) scale(0.9518,1)" font-size="35.2" fill="#000">7,8</text>
<path d="M332.2,1949.6 V1362.3 H1246.4 V1949.6" fill="none" stroke="#000" stroke-width="3" stroke-linejoin="miter"/>
<line x1="330.7" y1="1949.6" x2="1247.9" y2="1949.6" stroke="#000" stroke-width="3" stroke-linecap="butt"/>
<line x1="332.2" y1="1884.34" x2="344.7" y2="1884.34" stroke="#000" stroke-width="3" stroke-linecap="butt"/>
<line x1="332.2" y1="1819.09" x2="344.7" y2="1819.09" stroke="#000" stroke-width="3" stroke-linecap="butt"/>
<line x1="332.2" y1="1753.83" x2="344.7" y2="1753.83" stroke="#000" stroke-width="3" stroke-linecap="butt"/>
<line x1="332.2" y1="1688.58" x2="344.7" y2="1688.58" stroke="#000" stroke-width="3" stroke-linecap="butt"/>
<line x1="332.2" y1="1623.32" x2="344.7" y2="1623.32" stroke="#000" stroke-width="3" stroke-linecap="butt"/>
<line x1="332.2" y1="1558.06" x2="344.7" y2="1558.06" stroke="#000" stroke-width="3" stroke-linecap="butt"/>
<line x1="332.2" y1="1492.81" x2="344.7" y2="1492.81" stroke="#000" stroke-width="3" stroke-linecap="butt"/>
<line x1="332.2" y1="1427.55" x2="344.7" y2="1427.55" stroke="#000" stroke-width="3" stroke-linecap="butt"/>
<line x1="475.04" y1="1949.6" x2="475.04" y2="1939" stroke="#000" stroke-width="3" stroke-linecap="butt"/>
<line x1="617.89" y1="1949.6" x2="617.89" y2="1939" stroke="#000" stroke-width="3" stroke-linecap="butt"/>
<line x1="760.74" y1="1949.6" x2="760.74" y2="1939" stroke="#000" stroke-width="3" stroke-linecap="butt"/>
<line x1="903.58" y1="1949.6" x2="903.58" y2="1939" stroke="#000" stroke-width="3" stroke-linecap="butt"/>
<line x1="1046.42" y1="1949.6" x2="1046.42" y2="1939" stroke="#000" stroke-width="3" stroke-linecap="butt"/>
<line x1="1189.27" y1="1949.6" x2="1189.27" y2="1939" stroke="#000" stroke-width="3" stroke-linecap="butt"/>
<text transform="translate(278.23,1960.6) scale(1.0400,1)" font-size="33.6" fill="#000">0</text>
<text transform="translate(239.36,1895.34) scale(1.0400,1)" font-size="33.6" fill="#000">100</text>
<text transform="translate(239.36,1830.09) scale(1.0400,1)" font-size="33.6" fill="#000">200</text>
<text transform="translate(239.36,1764.83) scale(1.0400,1)" font-size="33.6" fill="#000">300</text>
<text transform="translate(239.36,1699.58) scale(1.0400,1)" font-size="33.6" fill="#000">400</text>
<text transform="translate(239.36,1634.32) scale(1.0400,1)" font-size="33.6" fill="#000">500</text>
<text transform="translate(239.36,1569.06) scale(1.0400,1)" font-size="33.6" fill="#000">600</text>
<text transform="translate(239.36,1503.81) scale(1.0400,1)" font-size="33.6" fill="#000">700</text>
<text transform="translate(239.36,1438.55) scale(1.0400,1)" font-size="33.6" fill="#000">800</text>
<text transform="translate(239.36,1373.3) scale(1.0400,1)" font-size="33.6" fill="#000">900</text>
<text transform="translate(324.68,2010.9) scale(1.0400,1)" font-size="33.6" fill="#000">0</text>
<text transform="translate(446.48,2010.9) scale(1.0400,1)" font-size="33.6" fill="#000">500</text>
<text transform="translate(578.97,2010.9) scale(1.0400,1)" font-size="33.6" fill="#000">1000</text>
<text transform="translate(721.82,2010.9) scale(1.0400,1)" font-size="33.6" fill="#000">1500</text>
<text transform="translate(865.12,2010.9) scale(1.0400,1)" font-size="33.6" fill="#000">2000</text>
<text transform="translate(1007.96,2010.9) scale(1.0400,1)" font-size="33.6" fill="#000">2500</text>
<text transform="translate(1151.02,2010.9) scale(1.0400,1)" font-size="33.6" fill="#000">3000</text>
<text transform="translate(215.4,1898.33) rotate(-90) scale(0.9958,1)" font-size="50" fill="#000">Cell Temperature [°C]</text>
<text transform="translate(701.78,2076.2) scale(0.9937,1)" font-size="50" fill="#000">Time [s]</text>
<line x1="332.2" y1="1754.9" x2="996.4" y2="1754.9" stroke="#000" stroke-width="1.9" stroke-linecap="butt" stroke-dasharray="8.8 7.4"/>
<line x1="995.9" y1="1754.9" x2="995.9" y2="1948.1" stroke="#000" stroke-width="1.9" stroke-linecap="butt" stroke-dasharray="8.8 7.4"/>
<clipPath id="clipC"><rect x="332.2" y="1362.3" width="915.7" height="587.3"/></clipPath>
<g clip-path="url(#clipC)">
<path d="M332.2,1933.5 C428.13,1933.5 524.07,1933.73 620,1933.5 C676.7,1933.36 733.4,1933.01 790.1,1932.4 C832.64,1931.94 875.17,1931.22 917.7,1930.3 C943.04,1929.75 968.37,1928.8 993.7,1928 C1011.6,1927.43 1029.51,1927.08 1047.4,1926.2 C1059.38,1925.61 1071.41,1925.22 1083.3,1923.6 C1095.36,1921.95 1107.23,1919.09 1119.1,1916.4 C1131.1,1913.68 1142.96,1910.38 1154.9,1907.4 C1166.83,1904.42 1178.67,1901.05 1190.7,1898.5 C1202.55,1895.98 1214.57,1894.32 1226.5,1892.2 C1233.14,1891.02 1239.77,1889.8 1246.4,1888.6" fill="none" stroke="#FFC000" stroke-width="4.5" stroke-linecap="round" stroke-linejoin="round" stroke-dasharray="0 9.9"/>
<path d="M332.2,1933.5 C378.47,1933.33 424.74,1933.51 471,1933 C500.67,1932.67 530.33,1931.7 560,1931 C580,1930.53 600,1930.05 620,1929.5 C634.17,1929.11 648.33,1928.56 662.5,1928.2 C680.23,1927.76 697.97,1927.45 715.7,1927.1 C733.43,1926.75 751.17,1926.62 768.9,1926.1 C786.61,1925.58 804.31,1924.88 822,1924 C839.74,1923.12 857.46,1921.7 875.2,1920.8 C892.89,1919.9 910.61,1919.52 928.3,1918.6 C945.34,1917.72 962.37,1916.5 979.4,1915.4 C987.77,1914.86 996.13,1914.28 1004.5,1913.7 C1012.83,1913.12 1021.24,1913.18 1029.5,1911.9 C1036.8,1910.77 1043.99,1908.83 1051,1906.5 C1056.57,1904.65 1067.1,1899.4 1067.1,1899.4 C1067.1,1899.4 1075.39,1885.6 1079.7,1878.8 C1083.15,1873.36 1085.93,1867.34 1090.4,1862.7 C1095,1857.92 1100.98,1854.68 1106.5,1851 C1111.75,1847.5 1117.11,1844.13 1122.7,1841.2 C1129.1,1837.85 1135.56,1834.5 1142.4,1832.2 C1149.93,1829.67 1157.8,1828.29 1165.6,1826.8 C1173.31,1825.32 1181.09,1824.15 1188.9,1823.3 C1197.24,1822.39 1205.62,1821.76 1214,1821.5 C1224.79,1821.16 1235.6,1821.5 1246.4,1821.5" fill="none" stroke="#FF66FF" stroke-width="4.5" stroke-linecap="round" stroke-linejoin="round" stroke-dasharray="13 20.5 0 20.5"/>
<path d="M332.2,1933.5 C345.47,1932.87 358.73,1932.17 372,1931.6 C385.96,1931 399.94,1930.78 413.9,1930 C425.12,1929.38 436.31,1928.38 447.5,1927.4 C458.71,1926.42 469.92,1925.41 481.1,1924.1 C492.33,1922.78 503.47,1920.77 514.7,1919.5 C525.84,1918.24 537.05,1917.7 548.2,1916.5 C559.42,1915.3 570.62,1913.86 581.8,1912.3 C594.56,1910.52 607.23,1908.19 620,1906.5 C634.14,1904.63 648.34,1903.3 662.5,1901.6 C676.71,1899.9 690.88,1897.9 705.1,1896.3 C719.25,1894.7 733.41,1893.23 747.6,1892 C761.75,1890.77 775.97,1890.31 790.1,1888.9 C804.34,1887.48 818.48,1885.1 832.7,1883.5 C846.85,1881.9 861.02,1880.53 875.2,1879.3 C889.35,1878.07 903.55,1877.35 917.7,1876.1 C931.88,1874.85 946.06,1873.44 960.2,1871.8 C971.99,1870.44 995.5,1867.1 995.5,1867.1 C995.5,1867.1 999.21,1863.06 1000.9,1860.9 C1004.58,1856.19 1007.76,1851.08 1011.6,1846.5 C1017.3,1839.7 1023.07,1832.91 1029.5,1826.8 C1035.04,1821.54 1042.32,1818.2 1047.4,1812.5 C1052.04,1807.3 1055.34,1800.95 1058.2,1794.6 C1060.49,1789.52 1062.21,1784.05 1062.7,1778.5 C1064.02,1763.62 1063.33,1748.63 1063.6,1733.7 C1063.93,1715.8 1064.25,1697.9 1064.5,1680 C1064.85,1654.93 1065.12,1629.87 1065.4,1604.8 C1065.58,1588.7 1065.62,1572.6 1065.9,1556.5 C1066.12,1543.63 1066.54,1530.77 1066.9,1517.9 C1067.17,1508.27 1067.13,1498.61 1067.8,1489 C1068,1486.12 1068.71,1483.28 1069.5,1480.5 C1069.72,1479.74 1070,1478.5 1070.8,1478.5 C1071.79,1478.5 1072.53,1479.63 1073,1480.5 C1074.46,1483.19 1075.57,1486.08 1076.5,1489 C1077.7,1492.77 1078.31,1496.7 1079.4,1500.5 C1081.54,1507.94 1083.81,1515.34 1086.2,1522.7 C1088.31,1529.18 1090.81,1535.52 1092.9,1542 C1094.97,1548.42 1096.46,1555.03 1098.7,1561.4 C1100.66,1566.98 1103.03,1572.42 1105.5,1577.8 C1108.5,1584.33 1111.75,1590.74 1115.1,1597.1 C1118.18,1602.95 1121.45,1608.7 1124.8,1614.4 C1126.42,1617.17 1128.19,1619.85 1130,1622.5 C1131.86,1625.22 1133.97,1627.76 1135.8,1630.5 C1138.31,1634.26 1140.56,1638.19 1143,1642 C1145.33,1645.63 1147.69,1649.23 1150.1,1652.8 C1152.76,1656.73 1155.36,1660.7 1158.2,1664.5 C1161.03,1668.28 1163.84,1672.09 1167.1,1675.5 C1170.73,1679.28 1174.85,1682.56 1178.8,1686 C1182.32,1689.06 1186.04,1691.88 1189.5,1695 C1192.61,1697.81 1195.39,1700.98 1198.5,1703.8 C1202.26,1707.22 1206.08,1710.59 1210.1,1713.7 C1213.85,1716.6 1217.85,1719.17 1221.8,1721.8 C1225.92,1724.54 1230.06,1727.24 1234.3,1729.8 C1238.47,1732.31 1242.77,1734.6 1247,1737" fill="none" stroke="#ED7D31" stroke-width="5" stroke-linecap="round" stroke-linejoin="round" stroke-dasharray="7 11"/>
<path d="M332.2,1933.5 C356.63,1934.03 381.06,1934.96 405.5,1935.09 C436.3,1935.26 467.11,1935.08 497.9,1934.4 C525.88,1933.79 553.84,1932.43 581.8,1931.23 C594.54,1930.68 607.26,1929.64 620,1929.16 C648.36,1928.1 676.75,1927.91 705.1,1926.6 C733.46,1925.29 761.77,1923.07 790.1,1921.3 C818.47,1919.53 846.82,1917.6 875.2,1916 C903.52,1914.4 931.86,1912.9 960.2,1911.7 C971.36,1911.23 993.7,1911 993.7,1911 C993.7,1911 1017.44,1903.36 1029.5,1900.2 C1041.36,1897.09 1053.58,1895.45 1065.4,1892.2 C1077.51,1888.87 1089.18,1884.11 1101.2,1880.5 C1113.05,1876.94 1124.93,1873.41 1137,1870.7 C1148.82,1868.04 1160.8,1866.06 1172.8,1864.4 C1184.68,1862.76 1196.63,1861.58 1208.6,1860.8 C1221.18,1859.98 1233.8,1860 1246.4,1859.6" fill="none" stroke="#5B9BD5" stroke-width="4.5" stroke-linecap="round" stroke-linejoin="round" stroke-dasharray="7 11"/>
<path d="M332.2,1933.5 C356.63,1933.9 381.06,1934.7 405.5,1934.7 C436.3,1934.7 467.11,1934.35 497.9,1933.5 C525.88,1932.74 553.84,1931.22 581.8,1929.87 C594.54,1929.26 607.26,1928.14 620,1927.59 C648.36,1926.38 676.75,1925.98 705.1,1924.6 C733.45,1923.22 761.77,1921.07 790.1,1919.3 C818.47,1917.53 846.82,1915.6 875.2,1914 C903.52,1912.4 931.86,1910.9 960.2,1909.7 C971.36,1909.23 993.7,1909 993.7,1909 C993.7,1909 1017.44,1901.36 1029.5,1898.2 C1041.36,1895.09 1053.58,1893.45 1065.4,1890.2 C1077.51,1886.87 1089.18,1882.11 1101.2,1878.5 C1113.05,1874.94 1124.93,1871.41 1137,1868.7 C1148.82,1866.04 1160.8,1864.06 1172.8,1862.4 C1184.68,1860.76 1196.63,1859.58 1208.6,1858.8 C1221.18,1857.98 1233.8,1858 1246.4,1857.6" fill="none" stroke="#92D050" stroke-width="4.5" stroke-linecap="round" stroke-linejoin="round" stroke-dasharray="7 11"/>
<path d="M332.2,1933.5 C356.63,1933.62 381.07,1934.14 405.5,1933.86 C436.31,1933.51 467.11,1932.8 497.9,1931.61 C525.89,1930.53 553.84,1928.69 581.8,1927.02 C594.54,1926.26 607.25,1924.99 620,1924.31 C648.36,1922.79 676.74,1921.94 705.1,1920.4 C733.45,1918.87 761.77,1916.87 790.1,1915.1 C818.47,1913.33 846.82,1911.4 875.2,1909.8 C903.52,1908.2 931.86,1906.7 960.2,1905.5 C971.36,1905.03 993.7,1904.8 993.7,1904.8 C993.7,1904.8 1017.44,1897.16 1029.5,1894 C1041.36,1890.89 1053.58,1889.25 1065.4,1886 C1077.51,1882.67 1089.18,1877.91 1101.2,1874.3 C1113.05,1870.74 1124.93,1867.21 1137,1864.5 C1148.82,1861.84 1160.8,1859.86 1172.8,1858.2 C1184.68,1856.56 1196.63,1855.38 1208.6,1854.6 C1221.18,1853.78 1233.8,1853.8 1246.4,1853.4" fill="none" stroke="#0000FF" stroke-width="4.5" stroke-linecap="round" stroke-linejoin="round"/>
<path d="M332.2,1933.5 C356.63,1933.5 381.07,1933.9 405.5,1933.5 C436.31,1933 467.12,1932.14 497.9,1930.8 C525.89,1929.58 553.84,1927.61 581.8,1925.8 C594.54,1924.98 607.25,1923.64 620,1922.9 C648.35,1921.24 676.74,1920.2 705.1,1918.6 C733.44,1917 761.77,1915.07 790.1,1913.3 C818.47,1911.53 846.82,1909.6 875.2,1908 C903.52,1906.4 931.86,1904.9 960.2,1903.7 C971.36,1903.23 993.7,1903 993.7,1903 C993.7,1903 1017.44,1895.36 1029.5,1892.2 C1041.36,1889.09 1053.58,1887.45 1065.4,1884.2 C1077.51,1880.87 1089.18,1876.11 1101.2,1872.5 C1113.05,1868.94 1124.93,1865.41 1137,1862.7 C1148.82,1860.04 1160.8,1858.06 1172.8,1856.4 C1184.68,1854.76 1196.63,1853.58 1208.6,1852.8 C1221.18,1851.98 1233.8,1852 1246.4,1851.6" fill="none" stroke="#00B050" stroke-width="5" stroke-linecap="round" stroke-linejoin="round"/>
<path d="M332.2,1933.5 C333.13,1933 334.06,1932.48 335,1932 C344.52,1927.12 354.05,1922.23 363.6,1917.4 C374.75,1911.76 385.61,1905.5 397.1,1900.6 C408.02,1895.95 419.33,1892.22 430.7,1888.8 C441.76,1885.48 453.1,1883.2 464.3,1880.4 C475.5,1877.6 486.64,1874.53 497.9,1872 C509.01,1869.5 520.21,1867.4 531.4,1865.3 C542.58,1863.2 553.78,1861.22 565,1859.4 C576.18,1857.59 587.36,1855.77 598.6,1854.4 C605.7,1853.53 612.89,1853.48 620,1852.7 C634.19,1851.15 648.33,1849.16 662.5,1847.4 C676.7,1845.63 690.88,1843.7 705.1,1842.1 C719.25,1840.5 733.43,1839.22 747.6,1837.8 C761.77,1836.38 775.93,1835.01 790.1,1833.6 C804.3,1832.18 818.5,1830.72 832.7,1829.3 C846.87,1827.89 861.05,1826.7 875.2,1825.1 C889.39,1823.5 903.56,1821.73 917.7,1819.7 C928.37,1818.17 939.07,1816.72 949.6,1814.4 C956.84,1812.81 964.04,1810.82 970.9,1808 C976.19,1805.82 981.66,1803.44 985.8,1799.5 C989.35,1796.12 991.61,1791.43 993.2,1786.8 C994.83,1782.06 994.92,1776.9 995.3,1771.9 C995.72,1766.28 995.3,1760.63 995.6,1755 C995.87,1749.99 996.81,1745.02 997,1740 C997.54,1725.97 997.4,1711.93 997.8,1697.9 C998.16,1685.26 998.87,1672.64 999.3,1660 C999.71,1648 999.94,1636 1000.3,1624 C1000.74,1609.57 1001.28,1595.13 1001.7,1580.7 C1002.08,1567.8 1002.14,1554.89 1002.7,1542 C1003.04,1534.15 1003.44,1526.3 1004.4,1518.5 C1004.72,1515.92 1005.53,1513.41 1006.5,1511 C1006.76,1510.37 1007.32,1509.5 1008,1509.6 C1008.86,1509.73 1009.35,1510.76 1009.8,1511.5 C1010.66,1512.91 1011.26,1514.47 1011.9,1516 C1014.19,1521.44 1016.38,1526.93 1018.6,1532.4 C1021.85,1540.43 1024.97,1548.51 1028.3,1556.5 C1031.4,1563.94 1034.63,1571.33 1037.9,1578.7 C1041.06,1585.83 1044.18,1592.99 1047.6,1600 C1049.98,1604.89 1052.59,1609.68 1055.3,1614.4 C1058.05,1619.19 1064,1628.5 1064,1628.5 C1064,1628.5 1080.8,1627.62 1089.1,1628.7 C1094.79,1629.44 1100.26,1631.57 1105.5,1633.9 C1109.93,1635.87 1113.62,1639.21 1117.9,1641.5 C1123.74,1644.62 1129.98,1646.95 1135.8,1650.1 C1141.93,1653.42 1147.66,1657.42 1153.7,1660.9 C1159.6,1664.29 1165.64,1667.42 1171.6,1670.7 C1177.57,1673.99 1183.59,1677.2 1189.5,1680.6 C1195.53,1684.07 1201.37,1687.83 1207.4,1691.3 C1213.31,1694.7 1219.31,1697.95 1225.3,1701.2 C1232.51,1705.11 1239.77,1708.93 1247,1712.8" fill="none" stroke="#FF0000" stroke-width="5" stroke-linecap="round" stroke-linejoin="round"/>
</g>
<text transform="translate(984.75,1466.3) scale(1.0000,1)" font-size="55" fill="#000">1</text>
<text transform="translate(1053.53,1466.3) scale(1.0377,1)" font-size="55" fill="#000">2</text>
<path d="M1297.1,1470.9 H1288.8 V1526.9 H1297.1 M1430.9,1470.9 H1437.4 V1526.9 H1430.9 M1297.1,1582.9 H1288.8 V1639.9 H1297.1 M1430.9,1582.9 H1437.4 V1639.9 H1430.9 M1297.1,1697.2 H1288.8 V1753.2 H1297.1 M1430.9,1697.2 H1437.4 V1753.2 H1430.9 M1297.1,1809.9 H1288.8 V1865.9 H1297.1 M1430.9,1809.9 H1437.4 V1865.9 H1430.9 M1456.2,1470.9 H1448.9 V1526.9 H1456.2 M1589.6,1470.9 H1597.4 V1526.9 H1589.6 M1456.2,1582.9 H1448.9 V1639.9 H1456.2 M1589.6,1582.9 H1597.4 V1639.9 H1589.6 M1456.2,1697.2 H1448.9 V1753.2 H1456.2 M1589.6,1697.2 H1597.4 V1753.2 H1589.6 M1456.2,1809.9 H1448.9 V1865.9 H1456.2 M1589.6,1809.9 H1597.4 V1865.9 H1589.6 M1614.3,1470.9 H1607.5 V1526.9 H1614.3 M1748.9,1470.9 H1757.4 V1526.9 H1748.9 M1614.3,1582.9 H1607.5 V1639.9 H1614.3 M1748.9,1582.9 H1757.4 V1639.9 H1748.9 M1614.3,1697.2 H1607.5 V1753.2 H1614.3 M1748.9,1697.2 H1757.4 V1753.2 H1748.9 M1614.3,1809.9 H1607.5 V1865.9 H1614.3 M1748.9,1809.9 H1757.4 V1865.9 H1748.9 M1437.4,1498.9 H1448.9 M1597.4,1498.9 H1607.5 M1437.4,1611.4 H1448.9 M1597.4,1611.4 H1607.5 M1437.4,1725.2 H1448.9 M1597.4,1725.2 H1607.5 M1437.4,1837.9 H1448.9 M1597.4,1837.9 H1607.5 M1288.8,1498.9 H1277.6 V1611.4 H1288.8 M1288.8,1725.2 H1277.6 V1837.9 H1288.8 M1757.4,1611.4 H1770.5 V1725.2 H1757.4 M1757.4,1498.9 H1771.4 M1757.4,1837.9 H1771.4 " fill="none" stroke="#000" stroke-width="2.7" stroke-linejoin="miter" stroke-linecap="square"/>
<circle cx="1778.4" cy="1498.9" r="7" fill="#fff" stroke="#000" stroke-width="2.7"/>
<circle cx="1778.4" cy="1837.9" r="7" fill="#fff" stroke="#000" stroke-width="2.7"/>
<rect x="1298.6" y="1449.1" width="130.8" height="43.6" fill="#C0C0C0" stroke="#000" stroke-width="3"/>
<rect x="1298.6" y="1505.1" width="130.8" height="43.6" fill="#C0C0C0" stroke="#000" stroke-width="3"/>
<rect x="1298.6" y="1561.1" width="130.8" height="43.6" fill="#C0C0C0" stroke="#000" stroke-width="3"/>
<rect x="1298.6" y="1618.1" width="130.8" height="43.6" fill="#C0C0C0" stroke="#000" stroke-width="3"/>
<rect x="1298.6" y="1675.4" width="130.8" height="43.6" fill="#C0C0C0" stroke="#000" stroke-width="3"/>
<rect x="1298.6" y="1731.4" width="130.8" height="43.6" fill="#C0C0C0" stroke="#000" stroke-width="3"/>
<rect x="1298.6" y="1788.1" width="130.8" height="43.6" fill="#C0C0C0" stroke="#000" stroke-width="3"/>
<rect x="1298.6" y="1844.1" width="130.8" height="43.6" fill="#C0C0C0" stroke="#000" stroke-width="3"/>
<rect x="1457.7" y="1449.1" width="130.4" height="43.6" fill="#C0C0C0" stroke="#000" stroke-width="3"/>
<rect x="1457.7" y="1505.1" width="130.4" height="43.6" fill="#C0C0C0" stroke="#000" stroke-width="3"/>
<rect x="1457.7" y="1561.1" width="130.4" height="43.6" fill="#C0C0C0" stroke="#000" stroke-width="3"/>
<rect x="1457.7" y="1618.1" width="130.4" height="43.6" fill="#C0C0C0" stroke="#000" stroke-width="3"/>
<rect x="1457.7" y="1675.4" width="130.4" height="43.6" fill="#C0C0C0" stroke="#000" stroke-width="3"/>
<rect x="1457.7" y="1731.4" width="130.4" height="43.6" fill="#C0C0C0" stroke="#000" stroke-width="3"/>
<rect x="1457.7" y="1788.1" width="130.4" height="43.6" fill="#F79A32" stroke="#000" stroke-width="3"/>
<rect x="1457.7" y="1844.1" width="130.4" height="43.6" fill="#FF0000" stroke="#000" stroke-width="3"/>
<rect x="1615.8" y="1449.1" width="131.6" height="43.6" fill="#C0C0C0" stroke="#000" stroke-width="3"/>
<rect x="1615.8" y="1505.1" width="131.6" height="43.6" fill="#C0C0C0" stroke="#000" stroke-width="3"/>
<rect x="1615.8" y="1561.1" width="131.6" height="43.6" fill="#C0C0C0" stroke="#000" stroke-width="3"/>
<rect x="1615.8" y="1618.1" width="131.6" height="43.6" fill="#C0C0C0" stroke="#000" stroke-width="3"/>
<rect x="1615.8" y="1675.4" width="131.6" height="43.6" fill="#C0C0C0" stroke="#000" stroke-width="3"/>
<rect x="1615.8" y="1731.4" width="131.6" height="43.6" fill="#C0C0C0" stroke="#000" stroke-width="3"/>
<rect x="1615.8" y="1788.1" width="131.6" height="43.6" fill="#C0C0C0" stroke="#000" stroke-width="3"/>
<rect x="1615.8" y="1844.1" width="131.6" height="43.6" fill="#C0C0C0" stroke="#000" stroke-width="3"/>
<text transform="translate(1507.26,1883.8) scale(1.0000,1)" font-size="49.5" fill="#000">1</text>
<text transform="translate(1507.94,1827.8) scale(1.0000,1)" font-size="49.5" fill="#000">2</text>
<text transform="translate(1273.45,1410.2) scale(0.9994,1)" font-size="50.6" fill="#000">Battery cell</text>
<line x1="1389.3" y1="1429.5" x2="1369.4" y2="1470.1" stroke="#000" stroke-width="4.2" stroke-linecap="butt"/>
<circle cx="1369.4" cy="1470.1" r="13.3" fill="#000"/>
<path d="M1524,1942.5 V1901.5 M1515.4,1911.3 L1524,1900.7 L1532.6,1911.3" fill="none" stroke="#E00000" stroke-width="2.3"/>
<text transform="translate(1448.13,1993.2) scale(0.9996,1)" font-size="50.8" fill="#E00000">Heater</text>
<text transform="translate(38.88,2160.3) scale(1.0014,1)" font-size="50.3" fill="#000">(a, b) (a) Cell temperature and (b) current calculated using the TR propagation model,</text>
<text transform="translate(39.86,2221.6) scale(1.0001,1)" font-size="50.3" fill="#000">accounting for short circuits between parallel cells. (c) Cell temperature calculated by</text>
<text transform="translate(41.24,2281.6) scale(0.9998,1)" font-size="50.3" fill="#000">the TR propagation model without considering short-circuit currents</text>
</svg>
</body></html>
